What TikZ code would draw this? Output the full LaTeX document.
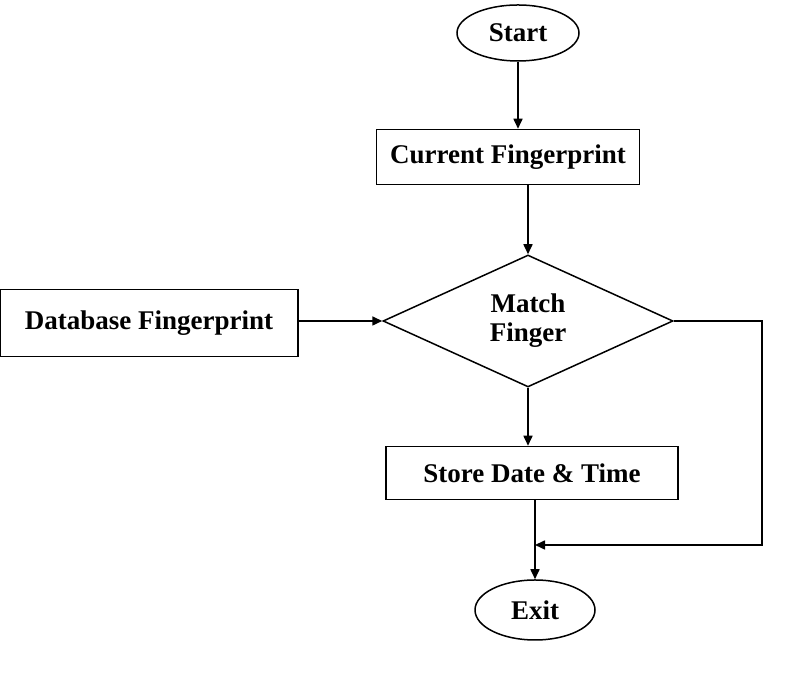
\documentclass[tikz,border=0pt]{standalone}
\usepackage{fontspec}
\setmainfont{Liberation Serif}
\usetikzlibrary{shapes.geometric,arrows.meta}
\begin{document}
\begin{tikzpicture}[x=1pt,y=1pt,
  every node/.style={font=\bfseries\fontsize{27}{29}\selectfont, draw=black, line width=1.5pt, inner sep=0pt, align=center},
  box/.style={rectangle},
  oval/.style={ellipse},
  dia/.style={diamond},
  arr/.style={line width=1.6pt, -{Triangle[length=10pt,width=9pt]}}]
\useasboundingbox (0,0) rectangle (801,676);
\node[oval, minimum width=122, minimum height=56] (start) at (518,643) {Start};
\node[box, minimum width=263, minimum height=55] (cur) at (508,519) {Current Fingerprint};
\node[dia, minimum width=290, minimum height=132] (match) at (528,355) {Match\\Finger};
\node[box, minimum width=298, minimum height=67] (db) at (149,353) {Database Fingerprint};
\node[box, minimum width=292, minimum height=53] (store) at (532,203) {Store Date \& Time};
\node[oval, minimum width=120, minimum height=60] (exit) at (535,66) {Exit};
\coordinate (r1) at (762,355);
\coordinate (r2) at (762,131);
\coordinate (j) at (535,131);
\draw[arr] (start.south) -- (start.south |- cur.north);
\draw[arr] (match.north |- cur.south) -- (match.north);
\draw[arr] (db.east |- match.west) -- (match.west);
\draw[arr] (match.south) -- (match.south |- store.north);
\draw[arr] (exit.north |- store.south) -- (exit.north);
\draw[arr] (match.east) -- (r1) -- (r2) -- (j);
\end{tikzpicture}
\end{document}
